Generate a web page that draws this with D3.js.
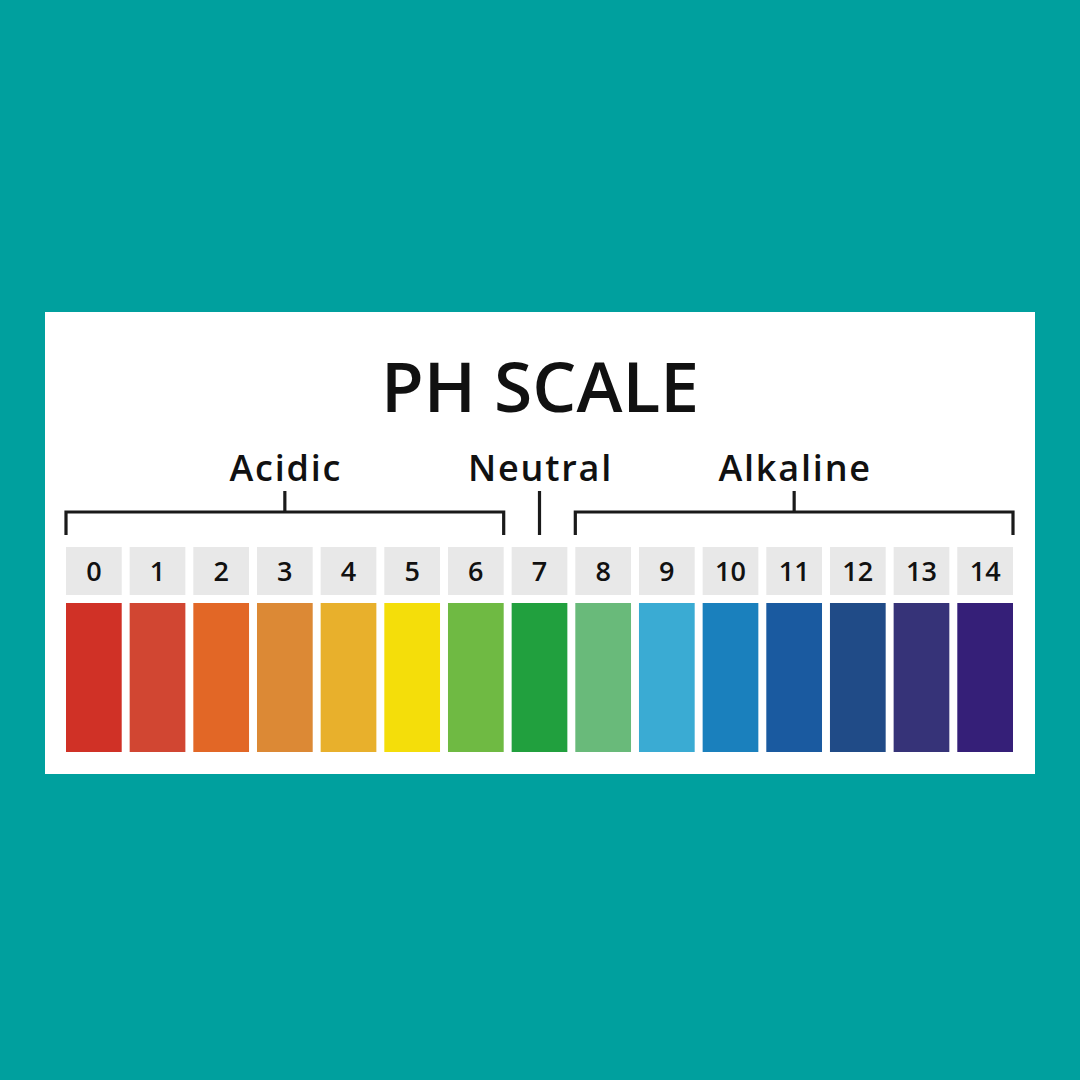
<!DOCTYPE html>
<html>
<head>
<meta charset="utf-8">
<script src="https://cdn.jsdelivr.net/npm/d3@7"></script>
<style>
  html, body { margin: 0; padding: 0; background: #00a09e; }
  svg { display: block; }
</style>
</head>
<body>
<div id="chart"></div>
<script>
// pH values and their strip colours
const phValues = [0, 1, 2, 3, 4, 5, 6, 7, 8, 9, 10, 11, 12, 13, 14];
const phColors = ["#d03126", "#d14632", "#e26726", "#dc8935", "#e8b02c",
                  "#f4de0a", "#6fba43", "#21a03e", "#69ba7a", "#3aabd3",
                  "#1a80bd", "#1a5aa0", "#204b87", "#363378", "#351f78"];
// groups shown with brackets
const groups = [
  { name: "Acidic", from: 0, to: 6 },
  { name: "Neutral", from: 7, to: 7 },
  { name: "Alkaline", from: 8, to: 14 }
];
const title = "PH SCALE";

const W = 1080, H = 1080;
const svg = d3.select("#chart").append("svg")
  .attr("width", W)
  .attr("height", H);

svg.append("rect").attr("width", W).attr("height", H).attr("fill", "#00a09e");

// white card
svg.append("rect")
  .attr("x", 45).attr("y", 312)
  .attr("width", 990).attr("height", 462)
  .attr("fill", "#ffffff");

const font = "'Open Sans', Lato, sans-serif";

const x = d3.scaleBand()
  .domain(phValues)
  .range([66, 1013])
  .paddingInner(0.125)
  .paddingOuter(0);

// title
svg.append("text")
  .attr("x", 540).attr("y", 412)
  .attr("text-anchor", "middle")
  .attr("font-family", font)
  .attr("font-weight", 600)
  .attr("font-size", 68)
  .attr("fill", "#111")
  .attr("textLength", 318)
  .attr("lengthAdjust", "spacingAndGlyphs")
  .text(title);

// brackets
const lineY = 512, endY = 535, tickY = 491;
const bg = svg.append("g")
  .attr("fill", "none")
  .attr("stroke", "#1a1a1a")
  .attr("stroke-width", 3.2);

groups.forEach(g => {
  const x0 = x(g.from), x1 = x(g.to) + x.bandwidth();
  const cx = (x0 + x1) / 2;
  if (g.from === g.to) {
    bg.append("line").attr("x1", cx).attr("x2", cx).attr("y1", tickY).attr("y2", endY);
  } else {
    bg.append("path")
      .attr("stroke-linejoin", "miter")
      .attr("d", `M${x0},${endY}V${lineY}H${x1}V${endY}`);
    bg.append("line").attr("x1", cx).attr("x2", cx).attr("y1", tickY).attr("y2", lineY);
  }
  svg.append("text")
    .attr("x", cx + 1).attr("y", 481)
    .attr("text-anchor", "middle")
    .attr("font-family", font)
    .attr("font-weight", 600)
    .attr("font-size", 36)
    .attr("letter-spacing", 1.8)
    .attr("fill", "#111")
    .text(g.name);
});

// number boxes
const cells = svg.append("g").selectAll("g")
  .data(phValues)
  .join("g");

cells.append("rect")
  .attr("x", d => x(d))
  .attr("y", 547)
  .attr("width", x.bandwidth())
  .attr("height", 48)
  .attr("fill", "#e8e8e8");

cells.append("text")
  .attr("x", d => x(d) + x.bandwidth() / 2)
  .attr("y", 581)
  .attr("text-anchor", "middle")
  .attr("font-family", font)
  .attr("font-weight", 600)
  .attr("font-size", 27)
  .attr("fill", "#111")
  .text(d => d);

// colour strips
cells.append("rect")
  .attr("x", d => x(d))
  .attr("y", 603)
  .attr("width", x.bandwidth())
  .attr("height", 149)
  .attr("fill", (d, i) => phColors[i]);
</script>
</body>
</html>
